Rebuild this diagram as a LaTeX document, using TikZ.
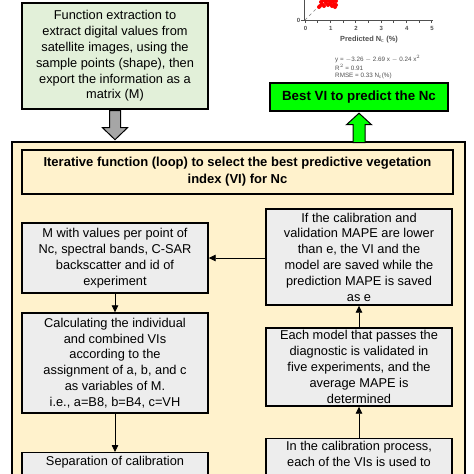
\documentclass[tikz,border=0pt]{standalone}
\usepackage{fontspec}
\setmainfont{Liberation Sans}
\usetikzlibrary{arrows.meta,calc}
\definecolor{lgreen}{HTML}{E2F0D9}
\definecolor{cream}{HTML}{FFF2CC}
\definecolor{lgray}{HTML}{EDEDED}
\definecolor{bgreen}{HTML}{00FF00}
\definecolor{agray}{HTML}{A6A6A6}
\definecolor{axgray}{HTML}{505050}
\begin{document}
\begin{tikzpicture}[x=1pt,y=-1pt,
  box/.style={draw=black, line width=1.4pt, minimum width=186pt, align=center, inner sep=0pt,
    font=\fontsize{12.8}{15.8}\selectfont},
  graybox/.style={box, fill=lgray},
  flow/.style={-{Triangle[length=7pt,width=6.5pt]}, line width=0.8pt},
  ticklab/.style={font=\bfseries\fontsize{6}{6}\selectfont, text=axgray, inner sep=0pt},
  eqlab/.style={font=\fontsize{6.3}{7}\selectfont, text=axgray, inner sep=0pt, anchor=west}]
\useasboundingbox (0,0) rectangle (474,474);
\clip (0,0) rectangle (474,474);
\fill[white] (0,0) rectangle (474,474);

% ---- scatter plot fragment ----
\draw[gray, dashed, line width=0.6pt] (305,20) -- (326,-1);
\foreach \px/\py in {320/6,322/4,324/6,326/3,328/5,330/4,332/6,334/4,336/5,321/2,325/1,329/1,333/1,336/1,323/0,327/0,331/2,319/7,335/7}
  \fill[red] (\px,\py) circle (2pt);
\draw[axgray, line width=0.7pt] (304,-2) -- (304,20) -- (433,20);
\draw[axgray, line width=0.7pt] (300.5,20) -- (304,20);
\foreach \i in {0,...,10}
  \draw[axgray, line width=0.6pt] ({305+\i*12.65},20) -- ({305+\i*12.65},22.5);
\foreach \i in {0,...,5}
  \node[ticklab] (xt\i) at ({305.5+\i*25.3},28) {\i};
\node[ticklab] (yt0) at (298.5,20) {0};
\node[font=\bfseries\fontsize{7.4}{8}\selectfont, text=axgray, inner sep=0pt] (xlab) at (369,40) {Predicted N$_{\mathrm{c}}$ (\%)};
\node[eqlab] (eq1) at (335,59) {y = $-$3.26 $-$ 2.69 x $-$ 0.24 x$^2$};
\node[eqlab] (eq2) at (335,67.5) {R$^2$ = 0.91};
\node[eqlab] (eq3) at (335,76) {RMSE = 0.33 N$_{\mathrm{c}}$(\%)};

% ---- top boxes ----
\node[box, fill=lgreen, minimum height=106pt] (extract) at (115,56)
  {Function extraction to\\ extract digital values from\\ satellite images, using the\\ sample points (shape), then\\ export the information as a\\ matrix (M)};
\node[draw=black, line width=1.4pt, fill=bgreen, minimum width=178pt, minimum height=28pt, inner sep=0pt,
  font=\bfseries\fontsize{13.3}{16}\selectfont] (best) at (359,97) {Best VI to predict the Nc};

% ---- outer loop box ----
\node[draw=black, line width=2pt, fill=cream, minimum width=453pt, minimum height=345pt,
  anchor=north west, inner sep=0pt] (loop) at (11,141) {};

% block arrows (y grows downward)
\draw[fill=agray, line width=1pt]
  ($(extract.south)+(-5.5,1)$) -- ($(extract.south)+(5.5,1)$) -- ($(extract.south)+(5.5,18)$) --
  ($(extract.south)+(12.5,18)$) -- ($(extract.south)+(0,30)$) -- ($(extract.south)+(-12.5,18)$) --
  ($(extract.south)+(-5.5,18)$) -- cycle;
\draw[fill=bgreen, line width=1pt]
  ($(best.south)+(-6,31)$) -- ($(best.south)+(6,31)$) -- ($(best.south)+(6,13)$) --
  ($(best.south)+(12.5,13)$) -- ($(best.south)+(0,1.5)$) -- ($(best.south)+(-12.5,13)$) --
  ($(best.south)+(-6,13)$) -- cycle;

% ---- title ----
\node[box, fill=cream, minimum width=431pt, minimum height=44pt,
  font=\bfseries\fontsize{13}{17}\selectfont] (title) at (237.5,172)
  {Iterative function (loop) to select the best predictive vegetation\\ index (VI) for Nc};

% ---- inner boxes ----
\node[graybox, minimum height=70pt] (mval) at (115,258)
  {M with values per point of\\ Nc, spectral bands, C-SAR\\ backscatter and id of\\ experiment};
\node[graybox, minimum height=96pt] (save) at (359,257)
  {If the calibration and\\ validation MAPE are lower\\ than e, the VI and the\\ model are saved while the\\ prediction MAPE is saved\\ as e};
\node[graybox, minimum height=100pt] (calc) at (115,363)
  {Calculating the individual\\ and combined VIs\\ according to the\\ assignment of a, b, and c\\ as variables of M.\\ i.e., a=B8, b=B4, c=VH};
\node[graybox, minimum height=78pt] (valid) at (359,367)
  {Each model that passes the\\ diagnostic is validated in\\ five experiments, and the\\ average MAPE is\\ determined};
\node[graybox, anchor=north, inner ysep=4pt] (sep) at (115,452)
  {Separation of calibration\\[2pt]~};
\node[graybox, anchor=north, inner ysep=3pt] (calib) at (359,438)
  {In the calibration process,\\ each of the VIs is used to\\[2pt]~};

% ---- connectors ----
\draw[flow] (save.west |- mval.east) -- (mval.east);
\draw[flow] (mval.south) -- (calc.north);
\draw[flow] (calc.south) -- (sep.north);
\draw[flow] (valid.north) -- (save.south);
\draw[flow] (calib.north) -- (valid.south);
\end{tikzpicture}
\end{document}
